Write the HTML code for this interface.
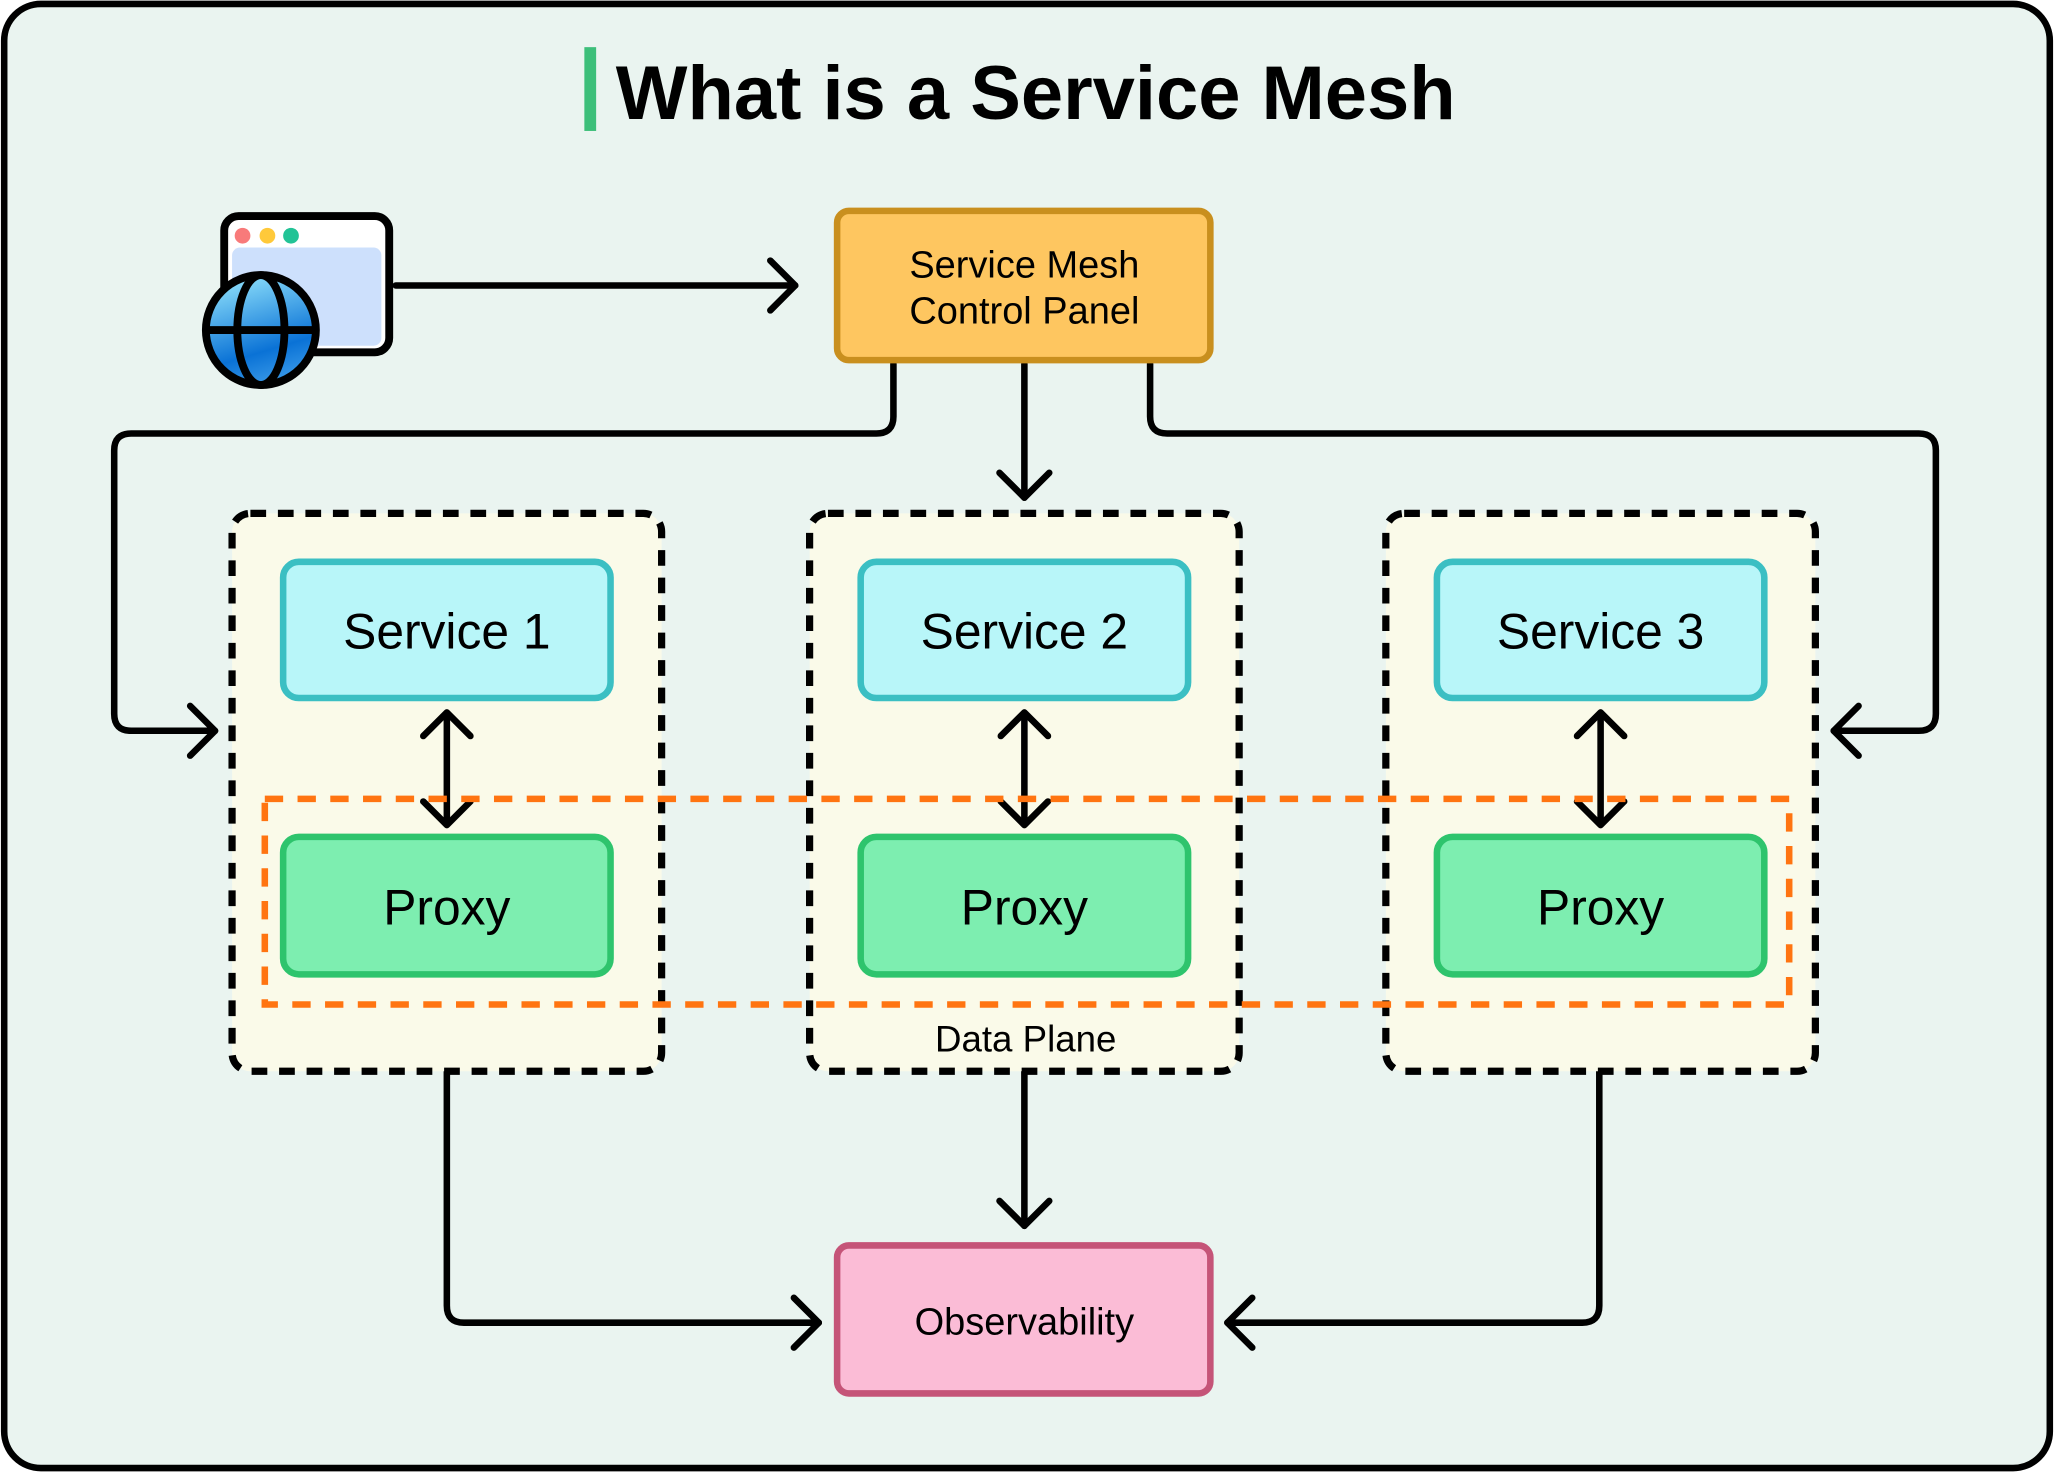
<!DOCTYPE html>
<html><head><meta charset="utf-8"><style>html,body{margin:0;padding:0;background:#fff}svg{display:block}</style></head>
<body>
<svg width="2054" height="1472" viewBox="0 0 1568 1124" xmlns="http://www.w3.org/2000/svg" font-family="Liberation Sans, DejaVu Sans, sans-serif">
<defs>
<linearGradient id="g" x1="0.3" y1="0" x2="0.6" y2="1"><stop offset="0" stop-color="#8ee0fb"/><stop offset="0.7" stop-color="#0a72d6"/><stop offset="1" stop-color="#3a9ae8"/></linearGradient>
</defs>
<rect x="3" y="3" width="1562" height="1118" rx="28" fill="#eaf4f0" stroke="#000" stroke-width="5"/>
<rect x="446" y="36" width="9" height="64" fill="#3dbf7a"/>
<text x="470" y="91" font-size="58" font-weight="bold" fill="#000">What is a Service Mesh</text>

<rect x="171" y="165" width="126" height="104" rx="11" fill="#fff" stroke="#000" stroke-width="6"/>
<rect x="177" y="189" width="114" height="75" rx="6" fill="#cde0fc"/>
<circle cx="185" cy="180" r="6" fill="#f87a7a"/>
<circle cx="204" cy="180" r="6" fill="#ffc93a"/>
<circle cx="222" cy="180" r="6" fill="#22c396"/>
<circle cx="199" cy="252" r="42" fill="url(#g)" stroke="#000" stroke-width="6"/>
<ellipse cx="199" cy="252" rx="18" ry="42" fill="none" stroke="#000" stroke-width="6"/>
<line x1="157" y1="252" x2="241" y2="252" stroke="#000" stroke-width="6"/>

<g fill="none" stroke="#000" stroke-width="5" stroke-linecap="round" stroke-linejoin="round">
<line x1="302" y1="218" x2="607" y2="218"/><polyline points="588,199 607,218 588,237"/>
<path d="M682 278 V318 Q682 331 669 331 H100 Q87 331 87 344 V545 Q87 558 100 558 H164"/><polyline points="145,539 164,558 145,577"/>
<path d="M878 278 V318 Q878 331 891 331 H1465 Q1478 331 1478 344 V545 Q1478 558 1465 558 H1400"/><polyline points="1419,539 1400,558 1419,577"/>
<line x1="782" y1="278" x2="782" y2="380"/><polyline points="763,361 782,380 801,361"/>
<path d="M341 818 V997 Q341 1010 354 1010 H625"/><polyline points="606,991 625,1010 606,1029"/>
<path d="M1221 818 V997 Q1221 1010 1208 1010 H937"/><polyline points="956,991 937,1010 956,1029"/>
<line x1="782" y1="818" x2="782" y2="936"/><polyline points="763,917 782,936 801,917"/>
</g>

<rect x="639" y="161" width="285" height="114" rx="9" fill="#fec660" stroke="#c98f1e" stroke-width="5"/>
<text x="782" y="212" font-size="29" text-anchor="middle">Service Mesh</text>
<text x="782" y="247" font-size="29" text-anchor="middle">Control Panel</text>

<g fill="#fafae9" stroke="#000" stroke-width="5.5" stroke-dasharray="12 9">
<rect x="177" y="392" width="328" height="426" rx="14"/>
<rect x="618" y="392" width="328" height="426" rx="14"/>
<rect x="1058" y="392" width="328" height="426" rx="14"/>
</g>

<g stroke-width="5">
<rect x="216" y="429" width="250" height="104" rx="12" fill="#b8f6f9" stroke="#3bbfc3"/>
<rect x="657" y="429" width="250" height="104" rx="12" fill="#b8f6f9" stroke="#3bbfc3"/>
<rect x="1097" y="429" width="250" height="104" rx="12" fill="#b8f6f9" stroke="#3bbfc3"/>
<rect x="216" y="639" width="250" height="105" rx="12" fill="#7deeb0" stroke="#2ec46d"/>
<rect x="657" y="639" width="250" height="105" rx="12" fill="#7deeb0" stroke="#2ec46d"/>
<rect x="1097" y="639" width="250" height="105" rx="12" fill="#7deeb0" stroke="#2ec46d"/>
</g>
<g font-size="38" text-anchor="middle" fill="#000">
<text x="341" y="495">Service 1</text><text x="782" y="495">Service 2</text><text x="1222" y="495">Service 3</text>
<text x="341" y="706">Proxy</text><text x="782" y="706">Proxy</text><text x="1222" y="706">Proxy</text>
</g>

<g fill="none" stroke="#000" stroke-width="5" stroke-linecap="round" stroke-linejoin="round">
<line x1="341" y1="545" x2="341" y2="629"/><polyline points="323,562 341,544 359,562"/><polyline points="323,612 341,630 359,612"/>
<line x1="782" y1="545" x2="782" y2="629"/><polyline points="764,562 782,544 800,562"/><polyline points="764,612 782,630 800,612"/>
<line x1="1222" y1="545" x2="1222" y2="629"/><polyline points="1204,562 1222,544 1240,562"/><polyline points="1204,612 1222,630 1240,612"/>
</g>

<rect x="202" y="610" width="1164" height="157" fill="none" stroke="#ff7411" stroke-width="5" stroke-dasharray="14 11"/>
<text x="783" y="803" font-size="28" text-anchor="middle">Data Plane</text>

<rect x="639" y="951" width="285" height="113" rx="9" fill="#fbbcd6" stroke="#c55478" stroke-width="5"/>
<text x="782" y="1019" font-size="29" text-anchor="middle">Observability</text>
</svg>
</body></html>
